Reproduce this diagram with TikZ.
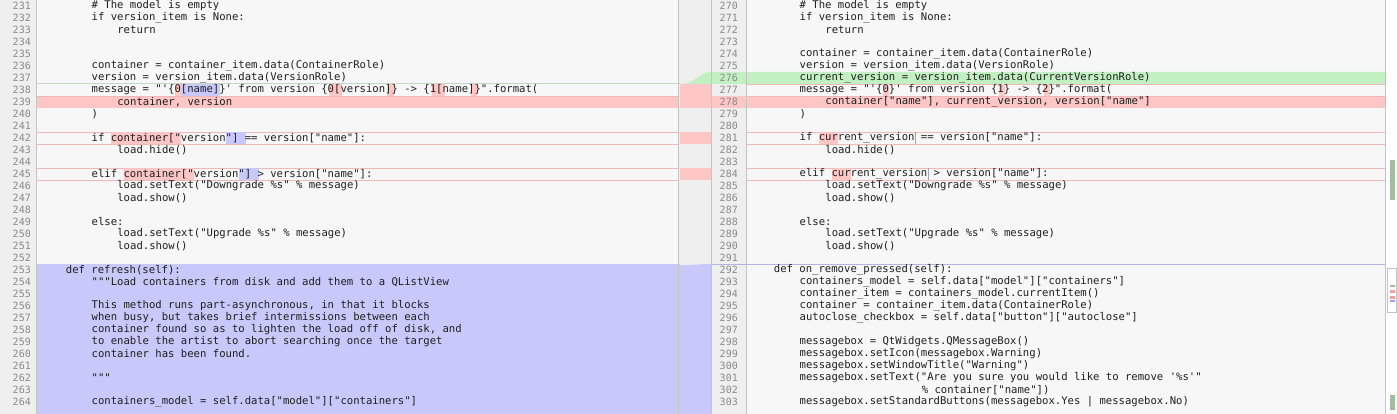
\documentclass[tikz,border=0pt]{standalone}
\usepackage{fontspec}
\setmonofont{DejaVu Sans Mono}
\definecolor{bgc}{HTML}{F7F7F7}
\definecolor{gut}{HTML}{EFEFEF}
\definecolor{pk}{HTML}{FFC6C6}
\definecolor{pkl}{HTML}{F0B8B8}
\definecolor{bl}{HTML}{C8C8FA}
\definecolor{gr}{HTML}{C2F0C2}
\definecolor{numc}{HTML}{8A8A8A}
\definecolor{brd}{HTML}{C4C4C4}
\tikzset{
 code/.style={anchor=west,inner sep=0pt,font=\ttfamily\fontsize{10.6}{12}\selectfont,text=black!88},
 num/.style={anchor=east,inner sep=0pt,font=\ttfamily\fontsize{10}{12}\selectfont,text=numc},
}
\newcommand\cw{6.43}
\newcommand\codeL[3]{\node[code] at ({40+#2*\cw},{(#1-231)*12+6}) {#3};}
\newcommand\codeR[3]{\node[code] at ({748+#2*\cw},{(#1-270)*12+6}) {#3};}
\newcommand\hlL[4]{\fill[#4] ({40+#2*\cw},{(#1-231)*12}) rectangle ({40+(#3+1)*\cw},{(#1-231)*12+12});}
\newcommand\hlR[4]{\fill[#4] ({748+#2*\cw},{(#1-270)*12}) rectangle ({748+(#3+1)*\cw},{(#1-270)*12+12});}
\begin{document}
\begin{tikzpicture}[x=1pt,y=-1pt]
\useasboundingbox (0,0) rectangle (1397,414);
% backgrounds
\fill[bgc] (0,0) rectangle (1397,414);
\fill[gut] (0,0) rectangle (36,414);
\fill[gut] (678,0) rectangle (746,414);
\fill[white] (1385,0) rectangle (1397,414);
% block highlights
\fill[pk] (36,96) rectangle (678,108);
\fill[pk] (680,84) rectangle (711,108);
\fill[pk] (680,132) rectangle (711,144);
\fill[pk] (680,168) rectangle (711,180);
\fill[pk] (711,96) rectangle (1385,108);
\fill[bl] (36,264) rectangle (680,414);
\fill[bl] (680,265) .. controls (696,265) and (700,264) .. (711,264) -- (711,414) -- (680,414) -- cycle;
\fill[gr] (680,84) .. controls (696,84) and (698,72) .. (711,72) -- (1385,72) -- (1385,84) -- (711,84) -- cycle;
\draw[gr!80!black!60,line width=1pt] (36,84) -- (680,84);
\draw[bl!90!black,line width=1pt] (711,264) -- (1385,264);
\foreach \y in {96,132,144,168,180} \draw[pkl,line width=.6pt] (36,\y) -- (678,\y);
\foreach \y in {84,96,132,144,168,180} \draw[pkl,line width=.6pt] (746,\y) -- (1385,\y);
% char highlights
\hlL{238}{21}{21}{pk}\hlL{238}{22}{27}{bl}\hlL{238}{45}{46}{pk}\hlL{238}{54}{54}{pk}\hlL{238}{61}{62}{pk}\hlL{238}{67}{67}{pk}
\hlL{242}{11}{21}{pk}\hlL{242}{29}{31}{bl}
\hlL{245}{13}{23}{pk}\hlL{245}{31}{33}{bl}
\hlR{277}{21}{21}{pk}\hlR{277}{39}{39}{pk}\hlR{277}{46}{46}{pk}
\hlR{281}{11}{13}{pk}\hlR{284}{13}{15}{pk}
\draw[bl!80!black] ({748+26*\cw},132) -- ({748+26*\cw},144);
\draw[bl!80!black] ({748+28*\cw},168) -- ({748+28*\cw},180);
% borders
\draw[brd] (36,0) -- (36,414);
\draw[brd] (678,0) -- (678,414);
\draw[brd] (711,0) -- (711,414);
\draw[brd] (746,0) -- (746,414);
\draw[brd] (1385,0) -- (1385,414);
% scrollbar
\draw[brd,fill=white] (1387,268) rectangle (1396,312);
\fill[gr!80!black] (1390,160) rectangle (1395,200);
\fill[pk!80!red] (1390,290) rectangle (1395,293);
\fill[pk!80!red] (1390,296) rectangle (1395,299);
\fill[bl!80!blue] (1390,300) rectangle (1395,302);
\fill[gr!80!black] (1390,285) rectangle (1395,287);
\fill[gr!80!black] (1390,395) rectangle (1395,410);
% line numbers
\foreach \n in {231,...,264} \node[num] at (31,{(\n-231)*12+6}) {\n};
\foreach \n in {270,...,303} \node[num] at (738,{(\n-270)*12+6}) {\n};
% left code
\codeL{231}{8}{\# The model is empty}
\codeL{232}{8}{if version\_item is None:}
\codeL{233}{12}{return}
\codeL{236}{8}{container = container\_item.data(ContainerRole)}
\codeL{237}{8}{version = version\_item.data(VersionRole)}
\codeL{238}{8}{message = "'\{0[name]\}' from version \{0[version]\} -> \{1[name]\}".format(}
\codeL{239}{12}{container, version}
\codeL{240}{8}{)}
\codeL{242}{8}{if container["version"] == version["name"]:}
\codeL{243}{12}{load.hide()}
\codeL{245}{8}{elif container["version"] > version["name"]:}
\codeL{246}{12}{load.setText("Downgrade \%s" \% message)}
\codeL{247}{12}{load.show()}
\codeL{249}{8}{else:}
\codeL{250}{12}{load.setText("Upgrade \%s" \% message)}
\codeL{251}{12}{load.show()}
\codeL{253}{4}{def refresh(self):}
\codeL{254}{8}{"""Load containers from disk and add them to a QListView}
\codeL{256}{8}{This method runs part-asynchronous, in that it blocks}
\codeL{257}{8}{when busy, but takes brief intermissions between each}
\codeL{258}{8}{container found so as to lighten the load off of disk, and}
\codeL{259}{8}{to enable the artist to abort searching once the target}
\codeL{260}{8}{container has been found.}
\codeL{262}{8}{"""}
\codeL{264}{8}{containers\_model = self.data["model"]["containers"]}
% right code
\codeR{270}{8}{\# The model is empty}
\codeR{271}{8}{if version\_item is None:}
\codeR{272}{12}{return}
\codeR{274}{8}{container = container\_item.data(ContainerRole)}
\codeR{275}{8}{version = version\_item.data(VersionRole)}
\codeR{276}{8}{current\_version = version\_item.data(CurrentVersionRole)}
\codeR{277}{8}{message = "'\{0\}' from version \{1\} -> \{2\}".format(}
\codeR{278}{12}{container["name"], current\_version, version["name"]}
\codeR{279}{8}{)}
\codeR{281}{8}{if current\_version == version["name"]:}
\codeR{282}{12}{load.hide()}
\codeR{284}{8}{elif current\_version > version["name"]:}
\codeR{285}{12}{load.setText("Downgrade \%s" \% message)}
\codeR{286}{12}{load.show()}
\codeR{288}{8}{else:}
\codeR{289}{12}{load.setText("Upgrade \%s" \% message)}
\codeR{290}{12}{load.show()}
\codeR{292}{4}{def on\_remove\_pressed(self):}
\codeR{293}{8}{containers\_model = self.data["model"]["containers"]}
\codeR{294}{8}{container\_item = containers\_model.currentItem()}
\codeR{295}{8}{container = container\_item.data(ContainerRole)}
\codeR{296}{8}{autoclose\_checkbox = self.data["button"]["autoclose"]}
\codeR{298}{8}{messagebox = QtWidgets.QMessageBox()}
\codeR{299}{8}{messagebox.setIcon(messagebox.Warning)}
\codeR{300}{8}{messagebox.setWindowTitle("Warning")}
\codeR{301}{8}{messagebox.setText("Are you sure you would like to remove '\%s'"}
\codeR{302}{27}{\% container["name"])}
\codeR{303}{8}{messagebox.setStandardButtons(messagebox.Yes | messagebox.No)}
\end{tikzpicture}
\end{document}
